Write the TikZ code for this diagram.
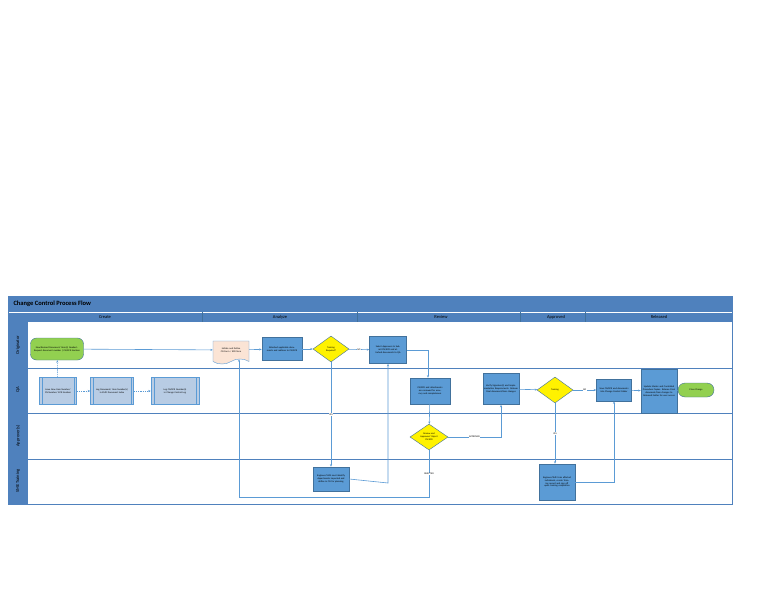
\documentclass[tikz,border=0pt]{standalone}
\usepackage{fontspec}
\setmainfont{Carlito}
\usetikzlibrary{shapes.geometric,shapes.symbols,arrows.meta}
\definecolor{hdr}{RGB}{79,129,189}
\definecolor{bx}{RGB}{91,155,213}
\definecolor{bxd}{RGB}{65,113,156}
\definecolor{lbx}{RGB}{184,204,228}
\definecolor{peach}{RGB}{251,228,213}
\definecolor{grn}{RGB}{146,208,80}
\definecolor{ln}{RGB}{91,155,213}
\tikzset{
 tiny/.style={font=\fontsize{2.4}{2.9}\selectfont, align=center},
 proc/.style={tiny, draw=bxd, fill=bx, line width=0.5pt, inner sep=0.5pt},
 predef/.style={tiny, draw=bx, fill=lbx, line width=0.5pt, inner sep=0.5pt},
 term/.style={tiny, draw=bxd, fill=grn, rounded corners=6pt, inner sep=0.5pt},
 dec/.style={tiny, diamond, draw=bxd, fill=yellow, aspect=1.4, inner sep=0pt},
 docu/.style={tiny, tape, tape bend top=none, draw=bx, fill=peach, inner sep=0.5pt},
 conn/.style={draw=ln, line width=0.6pt, -{Stealth[length=2.5pt,width=2pt]}},
 dconn/.style={conn, dashed, dash pattern=on 1.2pt off 1pt},
 lbl/.style={font=\fontsize{2.4}{2.9}\selectfont, fill=white, inner sep=0.3pt},
 lane/.style={font=\fontsize{4.5}{5}\selectfont, rotate=90, text=black},
 phase/.style={font=\fontsize{4.5}{5}\selectfont}
}
\begin{document}
\begin{tikzpicture}[x=1pt,y=-1pt]
\useasboundingbox[fill=white] (0,0) rectangle (768,594);
% frame
\fill[hdr] (8,296) rectangle (732,322);
\draw[white,line width=0.4pt] (8,312) -- (732,312);
\foreach \x in {202,357,520,585} \draw[bxd,line width=0.4pt] (\x,312) -- (\x,322);
\node[anchor=west,font=\fontsize{6.5}{7}\selectfont\bfseries] (title) at (10,304) {Change Control Process Flow};
\node[phase] (p1) at (105,317) {Create};
\node[phase] (p2) at (280,317) {Analyze};
\node[phase] (p3) at (441,317) {Review};
\node[phase] (p4) at (556,317) {Approved};
\node[phase] (p5) at (659,317) {Released};
\fill[hdr] (8,322) rectangle (28,504);
\foreach \y in {368,413,459} \draw[hdr,line width=0.8pt] (8,\y) -- (732,\y);
\draw[hdr,line width=0.8pt] (8,296) rectangle (732,504);
\node[lane] (l1) at (18,345) {Originator};
\node[lane] (l2) at (18,390) {QA};
\node[lane] (l3) at (18,436) {Approver(s)};
\node[lane] (l4) at (18,481) {SME Training};
% nodes
\node[term, minimum width=53pt, minimum height=22pt, text width=50pt] (n1) at (57,349) {New/Revised Document/ Item(s) Needed - Request document number ( CN/ECR Number};
\node[predef, minimum width=37pt, minimum height=27pt, text width=28pt] (q1) at (58,391) {Issue New Item Number/ CN Number/ ECR Number};
\node[predef, minimum width=43pt, minimum height=27pt, text width=33pt] (q2) at (112,391) {Log Document/ Item Number(s) in EMR Document Index};
\node[predef, minimum width=48pt, minimum height=27pt, text width=36pt] (q3) at (175,391) {Log CN/ECR Number(s) in Change Control Log};
\foreach \n in {q1,q2,q3} {\draw[bx,line width=0.5pt] ([xshift=3pt]\n.north west) -- ([xshift=3pt]\n.south west);
 \draw[bx,line width=0.5pt] ([xshift=-3pt]\n.north east) -- ([xshift=-3pt]\n.south east);}
\node[docu, minimum width=36pt, minimum height=23pt, text width=33pt] (doc) at (231,350) {Initiate and Define CN Form / ECR form};
\node[proc, minimum width=40pt, minimum height=23pt, text width=36pt] (a2) at (282,349) {Attached applicable documents and redlines to CN/ECR};
\node[dec, minimum width=36pt, minimum height=26pt] (d1) at (331,349) {Training\\Required?};
\node[proc, minimum width=37pt, minimum height=27pt, text width=34pt] (a3) at (388,350) {Select Approvers \& Submit CN/ECR and attached documents to QA};
\node[proc, minimum width=40pt, minimum height=26pt, text width=36pt] (r1) at (430,391) {CN/ECR and attachments are reviewed for accuracy and completeness};
\node[dec, minimum width=38pt, minimum height=26pt] (d2) at (429,437) {Review and\\Approvers' Reject\\CN/ECR};
\node[proc, minimum width=36pt, minimum height=31pt, text width=34pt] (r2) at (501,389) {Verify Signature(s) and Implementation Requirements. Release Final document/item changes};
\node[dec, minimum width=36pt, minimum height=26pt] (d3) at (555,390) {Training};
\node[proc, minimum width=35pt, minimum height=22pt, text width=32pt] (s1) at (614,390) {Save CN/ECR and documents into Change Control Folder};
\node[proc, minimum width=36pt, minimum height=44pt, text width=33pt] (u1) at (659,391) {Update Master and Controlled Procedure Copies. Release Final document/item changes to Released Folder for user access};
\node[term, minimum width=36pt, minimum height=14pt, rounded corners=7pt] (cl) at (696,390) {Close Change};
\node[proc, minimum width=36pt, minimum height=24pt, text width=33pt] (m1) at (331,479) {Engineer/SME must identify departments impacted and define in CN for planning};
\node[proc, minimum width=36pt, minimum height=36pt, text width=33pt] (m2) at (557,482) {Engineer/SME train affected individuals, create Training record and sign off upon training completion};
% connectors
\draw[dconn] (q1) -- (n1);
\draw[dconn] (q1) -- (q2);
\draw[dconn] (q2) -- (q3);
\draw[conn] (n1) -- (doc);
\draw[conn] (doc) -- (a2);
\draw[conn] (a2) -- (d1);
\draw[conn] (d1) -- node[lbl]{NO} (a3);
\draw[conn] (d1) -- node[lbl,pos=0.5]{YES} (m1);
\draw[conn] (m1.east) -- (388,483) -- (a3.south);
\draw[conn] (a3.east) -- (428,350) -- (r1.north -| 428,0);
\draw[conn] (r1) -- (d2);
\draw[conn] (d2.south) -- node[lbl,pos=0.5]{REJECTED} (429,497) -- (239,497) -- (doc.south -| 239,0);
\draw[conn] (d2.east) -- node[lbl]{APPROVED} (501,437) -- (r2.south);
\draw[conn] (r2) -- (d3);
\draw[conn] (d3) -- node[lbl]{NO} (s1);
\draw[conn] (d3.south) -- node[lbl,pos=0.5]{YES} (m2.north -| d3.south);
\draw[conn] (m2.east) -- (614,482) -- (s1.south);
\draw[conn] (s1) -- (u1);
\draw[conn] (u1) -- (cl);
\end{tikzpicture}
\end{document}
